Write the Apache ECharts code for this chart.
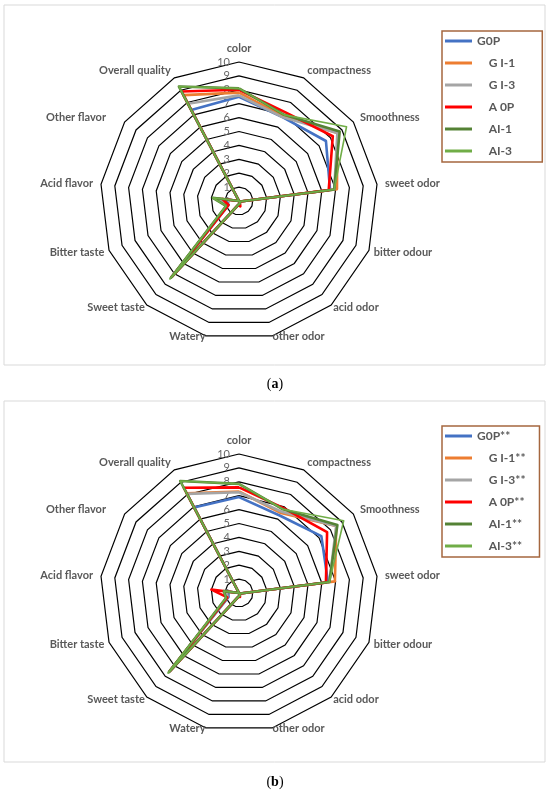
<!DOCTYPE html>
<html>
<head>
<meta charset="utf-8">
<style>
html, body { margin: 0; padding: 0; background: #fff; }
#main { width: 550px; height: 796px; }
</style>
<script src="https://cdn.jsdelivr.net/npm/echarts@6/dist/echarts.min.js"></script>
</head>
<body>
<div id="main"></div>
<script>
// sensory attributes, listed clockwise from the top
var indicators = ['color', 'compactness', 'Smoothness', 'sweet odor', 'bitter odour', 'acid odor',
    'other odor', 'Watery', 'Sweet taste', 'Bitter taste', 'Acid flavor', 'Other flavor', 'Overall quality'];

var namesA = ['G0P', '    G I-1', '    G I-3', '    A 0P', '    AI-1', '    AI-3'];
var namesB = ['G0P**', '    G I-1**', '    G I-3**', '    A 0P**', '    AI-1**', '    AI-3**'];

// panel (a)
var a_G0P  = [7.5, 6.8, 7.6, 6.6, 0.1, 0.1, 0.2, 0.3, 7.3, 0.8, 1.0, 0, 7.4];
var a_GI1  = [7.8, 6.9, 8.6, 7.1, 0.1, 0.1, 0.2, 0.3, 7.3, 0.9, 1.5, 0, 8.6];
var a_GI3  = [7.6, 6.8, 8.6, 6.9, 0.1, 0.1, 0.2, 0.3, 7.4, 0.9, 1.5, 0, 7.9];
var a_A0P  = [8.0, 7.2, 8.2, 6.5, 0.1, 0.1, 0.4, 0.3, 7.3, 0.8, 1.2, 0, 8.9];
var a_AI1  = [8.1, 7.0, 8.8, 6.9, 0.1, 0.1, 0.2, 0.3, 7.4, 1.0, 1.9, 0, 9.3];
var a_AI3  = [8.1, 7.0, 9.4, 6.9, 0.1, 0.1, 0.2, 0.3, 7.5, 1.0, 1.9, 0, 9.3];

// panel (b)
var b_G0P  = [6.9, 6.3, 7.2, 6.45, 0.1, 0.1, 0.2, 0.3, 7.5, 0.8, 0.8, 0, 6.95];
var b_GI1  = [7.3, 6.5, 8.5, 6.95, 0.1, 0.1, 0.2, 0.3, 7.5, 0.9, 0.9, 0, 8.1];
var b_GI3  = [7.25, 6.6, 8.5, 6.55, 0.1, 0.1, 0.2, 0.3, 7.6, 0.9, 0.9, 0, 8.05];
var b_A0P  = [7.6, 6.9, 7.7, 6.3, 0.1, 0.1, 0.3, 0.3, 7.5, 0.9, 2.0, 0, 8.55];
var b_AI1  = [7.85, 6.8, 8.6, 6.55, 0.1, 0.1, 0.2, 0.3, 7.6, 1.0, 1.1, 0, 9.1];
var b_AI3  = [7.85, 6.8, 9.15, 6.55, 0.1, 0.1, 0.2, 0.3, 7.7, 1.0, 1.1, 0, 9.1];

var colors = ['#4472C4', '#ED7D31', '#A5A5A5', '#FF0000', '#548235', '#70AD47'];
var widths = [2.6, 2.6, 2.6, 2.6, 2.6, 1.6];

var FONT = 'Lato, sans-serif';
var TXT = '#595959';

// lower names sit closer to the outer ring, like excel does
var nameGaps = { 'bitter odour': 5, 'acid odor': 3, 'other odor': 1, 'Watery': 1, 'Sweet taste': 3, 'Bitter taste': 5 };

// echarts radar runs counter-clockwise, so reverse everything after the first axis
var order = [0];
for (var k = indicators.length - 1; k > 0; k--) order.push(k);

function reorder(arr) {
    return order.map(function (i) { return arr[i]; });
}

function makeIndicators() {
    return order.map(function (i, n) {
        var ind = { name: indicators[i], min: 0, max: 10 };
        if (nameGaps[indicators[i]] != null) ind.nameGap = nameGaps[indicators[i]];
        if (n === 0) {
            ind.axisLabel = { show: true, color: '#666', fontSize: 11, fontFamily: FONT, margin: 9, align: 'right' };
        }
        return ind;
    });
}

function makeRadar(cy) {
    return {
        center: [239, cy],
        radius: 139,
        shape: 'polygon',
        splitNumber: 10,
        nameGap: 8,
        axisName: {
            color: TXT, fontSize: 11, fontWeight: 'bold', fontFamily: FONT,
            formatter: function (name) {
                // excel pushes this one further out
                return name === 'Other flavor' ? '{far|' + name + '}' : name;
            },
            rich: {
                far: { color: TXT, fontSize: 11, fontWeight: 'bold', fontFamily: FONT, padding: [0, 12, 0, 0] }
            }
        },
        axisLine: { show: false },
        axisTick: { show: false },
        axisLabel: { show: false },
        splitArea: { show: false },
        splitLine: { lineStyle: { color: '#000', width: 1.2 } },
        indicator: makeIndicators()
    };
}

function makeSeries(idx, names, sets) {
    return {
        type: 'radar',
        radarIndex: idx,
        symbol: 'none',
        silent: true,
        data: sets.map(function (s, j) {
            return {
                name: names[j],
                value: reorder(s),
                lineStyle: { color: colors[j], width: widths[j] },
                itemStyle: { color: colors[j] }
            };
        })
    };
}

function makeLegend(top, names, padRight) {
    return {
        orient: 'vertical',
        left: 442,
        top: top,
        data: names,
        icon: 'rect',
        itemWidth: 27,
        itemHeight: 3,
        itemGap: 10,
        padding: [4, padRight, 5, 3],
        borderColor: '#A5673F',
        borderWidth: 1.5,
        textStyle: { color: TXT, fontSize: 12, fontWeight: 'bold', fontFamily: FONT }
    };
}

var titleRich = {
    p: { fontFamily: 'Liberation Serif, serif', fontSize: 14, fontWeight: 'normal', color: '#000' },
    b: { fontFamily: 'Liberation Serif, serif', fontSize: 14, fontWeight: 'bold', color: '#000' }
};

var myChart = echarts.init(document.getElementById('main'));
var option = {
    animation: false,
    backgroundColor: '#fff',
    title: [
        { text: '{p|(}{b|a}{p|)}', left: 'center', top: 372, textStyle: { fontWeight: 'normal', rich: titleRich } },
        { text: '{p|(}{b|b}{p|)}', left: 'center', top: 770, textStyle: { fontWeight: 'normal', rich: titleRich } }
    ],
    graphic: [
        { type: 'rect', shape: { x: 4, y: 5, width: 541, height: 360 }, style: { fill: 'none', stroke: '#d9d9d9', lineWidth: 1 } },
        { type: 'rect', shape: { x: 4, y: 401, width: 541, height: 361 }, style: { fill: 'none', stroke: '#d9d9d9', lineWidth: 1 } }
    ],
    legend: [
        makeLegend(31, namesA, 27),
        makeLegend(426, namesB, 14)
    ],
    radar: [makeRadar(201), makeRadar(593)],
    series: [
        makeSeries(0, namesA, [a_G0P, a_GI1, a_GI3, a_A0P, a_AI1, a_AI3]),
        makeSeries(1, namesB, [b_G0P, b_GI1, b_GI3, b_A0P, b_AI1, b_AI3])
    ]
};
myChart.setOption(option);
</script>
</body>
</html>
